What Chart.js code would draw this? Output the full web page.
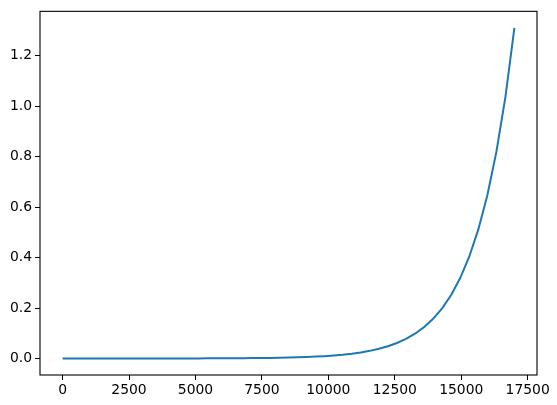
<!DOCTYPE html>
<html>
<head>
<meta charset="utf-8">
<script src="https://cdn.jsdelivr.net/npm/chart.js@4"></script>
<style>
  html, body { margin: 0; padding: 0; background: #fff; }
  canvas { display: block; }
</style>
</head>
<body>
<canvas id="growthChart" width="557" height="405"></canvas>
<script>
// x positions of the sampled points (51 samples, 0..17000)
const xValues = [0, 340, 680, 1020, 1360, 1700, 2040, 2380, 2720, 3060,
  3400, 3740, 4080, 4420, 4760, 5100, 5440, 5780, 6120, 6460,
  6800, 7140, 7480, 7820, 8160, 8500, 8840, 9180, 9520, 9860,
  10200, 10540, 10880, 11220, 11560, 11900, 12240, 12580, 12920, 13260,
  13600, 13940, 14280, 14620, 14960, 15300, 15640, 15980, 16320, 16660,
  17000];

// values
const yValues = [0.00001, 0.0000127, 0.000016, 0.0000203, 0.0000257, 0.0000325, 0.0000411, 0.000052, 0.0000659, 0.0000834,
  0.000106, 0.000134, 0.000169, 0.000214, 0.000271, 0.000343, 0.000434, 0.000549, 0.000696, 0.00088,
  0.00111, 0.00141, 0.00179, 0.00226, 0.00286, 0.00362, 0.00458, 0.0058, 0.00734, 0.00929,
  0.0118, 0.0149, 0.0188, 0.0239, 0.0302, 0.0382, 0.0484, 0.0612, 0.0775, 0.0981,
  0.1242, 0.1572, 0.1989, 0.2518, 0.3187, 0.4034, 0.5106, 0.6463, 0.8181, 1.0355,
  1.3107];

const xTicks = [0, 2500, 5000, 7500, 10000, 12500, 15000, 17500];
const yTicks = [0.0, 0.2, 0.4, 0.6, 0.8, 1.0, 1.2];

const tickFont = { family: 'DejaVu Sans', size: 13.9 };

// matplotlib-style closed frame around the plot area
const frame = {
  id: 'frame',
  afterDraw: (chart) => {
    const { ctx, chartArea: { left, top, right, bottom } } = chart;
    ctx.save();
    ctx.strokeStyle = '#000';
    ctx.lineWidth = 1.1;
    ctx.strokeRect(left, top, right - left, bottom - top);
    ctx.restore();
  }
};

new Chart(document.getElementById('growthChart').getContext('2d'), {
  type: 'line',
  data: {
    datasets: [{
      data: xValues.map((x, i) => ({ x: x, y: yValues[i] })),
      borderColor: '#1f77b4',
      borderWidth: 2,
      pointRadius: 0,
      tension: 0,
      fill: false
    }]
  },
  options: {
    responsive: false,
    animation: false,
    devicePixelRatio: 1,
    layout: { padding: { top: 7, right: 20, left: 0, bottom: 0 } },
    plugins: { legend: { display: false }, tooltip: { enabled: false } },
    scales: {
      x: {
        type: 'linear',
        min: -850,
        max: 17850,
        afterBuildTicks: (axis) => { axis.ticks = xTicks.map(v => ({ value: v })); },
        afterFit: (axis) => { axis.height = 30; },
        grid: { drawOnChartArea: false, tickLength: 5, tickColor: '#000', tickWidth: 1 },
        border: { display: false },
        ticks: { color: '#000', font: tickFont, padding: 2, maxRotation: 0,
          callback: (v) => String(v) }
      },
      y: {
        min: -0.065536,
        max: 1.376256,
        afterBuildTicks: (axis) => { axis.ticks = yTicks.map(v => ({ value: v })); },
        afterFit: (axis) => { axis.width = 40; },
        grid: { drawOnChartArea: false, tickLength: 5, tickColor: '#000', tickWidth: 1 },
        border: { display: false },
        ticks: { color: '#000', font: tickFont, padding: 3,
          callback: (v) => v.toFixed(1) }
      }
    }
  },
  plugins: [frame]
});
</script>
</body>
</html>
